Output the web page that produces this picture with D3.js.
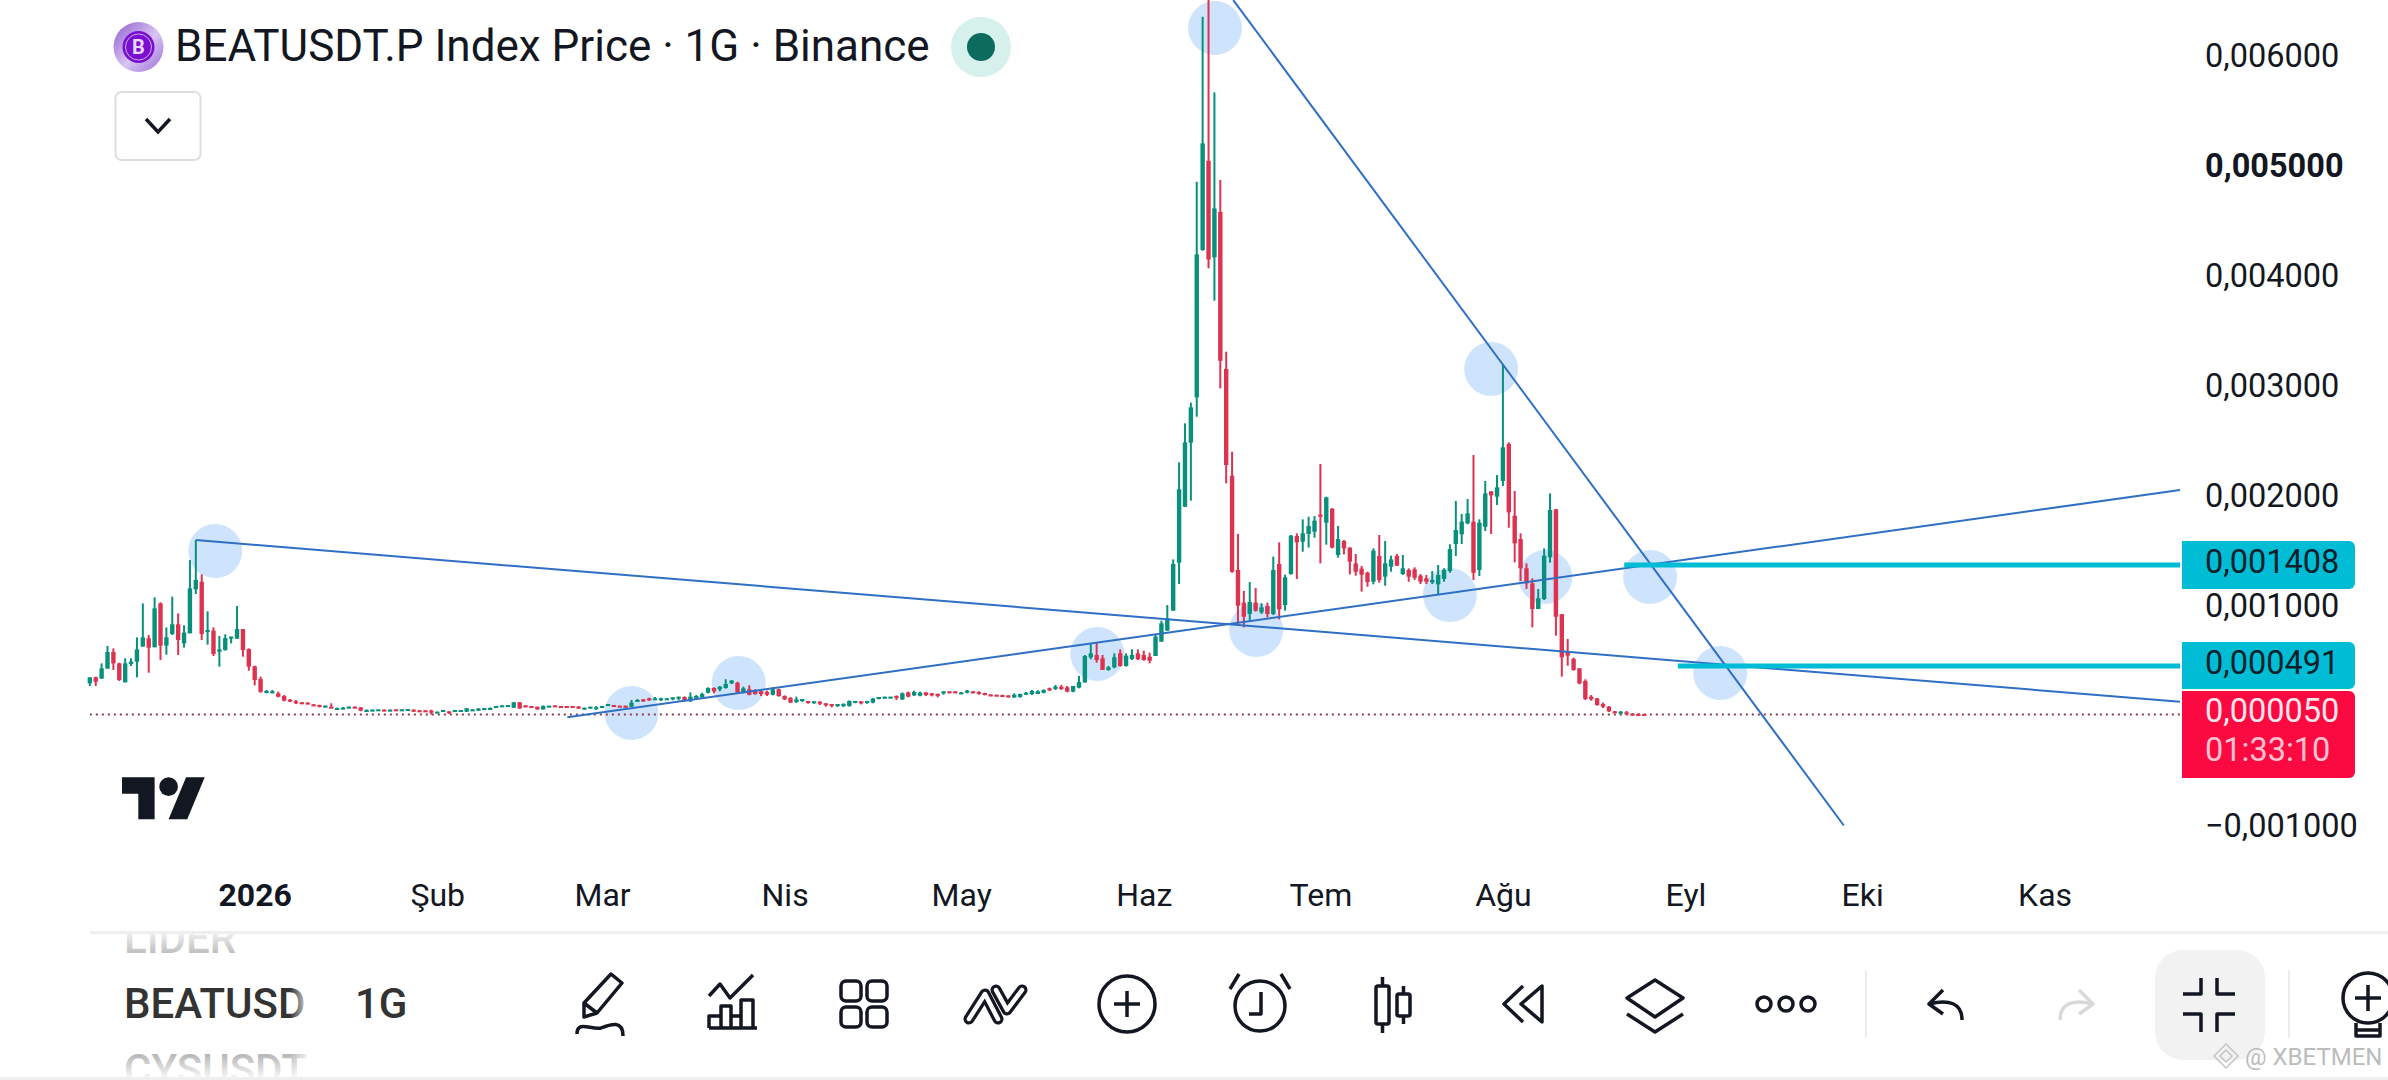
<!DOCTYPE html>
<html>
<head>
<meta charset="utf-8">
<script src="https://cdn.jsdelivr.net/npm/d3@7"></script>
<style>
  html, body { margin: 0; padding: 0; background: #fff; overflow: hidden; }
  text { font-family: Roboto, sans-serif; }
</style>
</head>
<body>
<svg id="chart" width="2388" height="1080"></svg>
<script>
// prices are in millionths of USDT, one candle per day from 4 Dec 2025
var opens = [333,388,376,467,618,515,342,509,530,667,
742,661,1060,676,782,870,697,788,1188,1257,
803,812,621,636,745,739,827,645,488,373,
252,248,242,218,185,170,161,158,142,136,
121,121,103,103,112,121,115,85,88,88,
94,88,97,91,91,94,88,88,85,67,
82,79,82,82,76,85,85,97,100,115,
121,124,112,161,133,127,121,97,121,133,
127,127,127,121,97,106,97,112,130,136,
130,130,121,167,188,197,188,185,191,194,
200,209,170,194,206,248,291,279,291,333,
339,248,279,273,261,255,230,279,218,200,
164,179,173,161,167,152,145,127,127,127,
161,170,158,158,194,200,206,218,188,251,
224,221,251,242,236,242,261,261,242,248,
261,255,245,233,230,227,224,206,209,236,
236,236,248,288,282,303,297,258,294,342,
570,591,561,455,479,606,491,555,606,591,
576,582,712,812,994,1430,1939,2521,2933,4272,
5084,4206,4618,3191,2221,1364,1067,964,1067,979,
1036,964,1418,1045,1327,1673,1621,1691,1712,1867,
1794,1921,1500,1627,1567,1424,1376,1339,1257,1491,
1303,1394,1491,1327,1364,1370,1312,1288,1251,1233,
1282,1354,1600,1688,1788,1803,1364,1757,2079,2030,
2173,2509,1857,1645,1379,1242,1009,1100,1479,1915,
961,621,555,470,355,212,197,145,121,79,
61,70,58,55,55];
var highs = [388,394,515,673,651,521,561,561,751,1060,
773,1115,1070,842,1121,970,861,1454,1636,1324,
988,842,764,779,758,1036,827,651,494,394,
273,273,258,227,191,182,161,161,145,139,
133,152,112,118,124,124,118,97,97,97,
97,97,97,97,100,97,91,88,94,76,
91,79,91,91,109,97,109,109,115,127,
133,136,164,164,133,127,121,133,130,133,
127,127,127,127,112,121,127,127,145,136,
130,130,182,191,188,203,209,203,197,206,
212,215,251,227,248,297,297,309,370,364,
348,303,315,279,267,267,297,285,224,209,
212,191,173,170,170,152,145,145,152,179,
173,170,173,200,209,212,212,224,251,258,
267,258,251,245,242,261,261,261,255,273,
261,261,248,233,230,230,224,242,239,255,
273,270,279,294,318,318,309,309,400,591,
697,703,591,491,606,642,606,642,642,630,
612,773,903,1045,1460,2342,2697,2885,4893,6393,
6700,5705,4909,3348,2439,1691,1173,1254,1200,1061,
1067,1485,1615,1321,1682,1697,1824,1848,1854,2327,
2030,1927,1764,1636,1570,1509,1400,1348,1560,1682,
1627,1494,1509,1500,1379,1388,1327,1318,1354,1409,
1379,1597,1991,1873,2009,2409,1824,2173,2079,2227,
3227,2524,2082,1697,1424,1288,1191,1560,2060,1918,
964,736,567,470,370,227,200,158,127,82,
82,82,61,61,55];
var lows = [309,309,376,467,455,355,342,491,388,667,
430,661,545,594,773,591,658,788,1145,727,
685,582,485,630,697,739,576,448,315,248,
242,242,206,170,164,145,145,145,127,115,
118,109,97,100,112,112,79,73,82,85,
85,85,85,85,88,73,76,76,48,64,
76,55,79,79,73,82,82,94,97,112,
118,121,109,100,115,109,94,94,118,118,
109,109,109,103,94,103,94,109,127,121,
118,112,118,164,164,173,182,173,185,179,
179,170,164,188,200,242,242,261,285,327,
242,242,224,230,218,218,224,212,182,155,
155,164,148,148,136,121,115,118,118,121,
152,142,148,152,188,194,200,182,182,206,
218,215,218,215,206,230,242,242,236,242,
242,230,224,215,215,209,203,200,203,227,
227,236,242,264,273,273,252,252,288,339,
552,521,455,448,470,485,485,545,545,539,
515,582,712,812,994,1236,1939,1994,2757,4266,
4106,3812,3015,2151,1339,864,842,903,985,964,
933,955,915,994,1321,1282,1530,1567,1657,1424,
1594,1560,1476,1506,1324,1312,1167,1212,1233,1248,
1221,1348,1400,1318,1257,1273,1236,1236,1236,1142,
1257,1339,1491,1600,1779,1273,1309,1718,1691,1954,
2127,1748,1433,1263,1191,842,1009,1091,1430,767,
394,494,448,324,182,176,130,109,73,67,
48,48,42,45,42];
var closes = [388,348,470,618,515,364,515,530,642,751,
657,1015,676,751,870,727,794,1197,1273,782,
818,600,642,745,758,827,636,485,364,255,
264,261,212,176,170,161,152,148,130,127,
130,112,109,112,121,115,85,91,94,97,
88,94,88,97,100,85,79,79,67,76,
91,70,91,91,106,97,103,109,109,127,
133,136,161,106,121,112,97,127,130,121,
112,112,112,106,112,121,115,127,145,124,
121,118,158,182,173,179,197,197,197,206,
212,176,212,218,236,291,261,303,327,358,
252,288,230,236,236,230,279,218,188,158,
188,191,161,170,148,136,127,145,145,173,
173,158,173,194,209,212,212,203,242,212,
255,248,227,224,224,261,248,248,251,267,
248,242,230,221,221,215,209,230,236,248,
264,261,273,270,303,282,258,309,345,582,
606,545,455,479,570,491,585,591,552,545,
539,758,879,924,1418,2097,2524,2842,4233,5242,
4187,4651,3266,2318,1348,1039,939,1073,994,1024,
964,1364,1006,1297,1676,1615,1697,1764,1812,1848,
2024,1567,1645,1560,1439,1348,1321,1254,1539,1273,
1424,1460,1403,1379,1303,1294,1257,1257,1273,1318,
1364,1554,1727,1803,1879,1339,1794,2060,2042,2115,
2479,1888,1606,1379,1242,1009,1106,1494,1909,939,
570,585,455,333,191,188,136,121,79,70,
76,61,48,48,50];

var priceTicks = [6000,5000,4000,3000,2000,1000,-1000];
var monthDates = ["2026-01-01","2026-02-01","2026-03-01","2026-04-01","2026-05-01","2026-06-01","2026-07-01","2026-08-01","2026-09-01","2026-10-01","2026-11-01"];
var monthLabels = ["2026","Şub","Mar","Nis","May","Haz","Tem","Ağu","Eyl","Eki","Kas"];

// annotations: days counted from 1 Jan 2026
var markerDays = [-6.7,64,82.2,143.1,163.1,170.1,203,210,219.2,237,248.9];
var markerPrices = [1536,64,336,600,6291,818,1136,3191,1300,1300,427];
var trendDays = [[-10,327],[53.1,327],[166.2,269.9]];
var trendPrices = [[1636,166],[25,2091],[6545,-959]];
var levelPrices = [1408,491];
var levelDays = [232.6,241.7];
var lastPrice = 50;
var countdown = "01:33:10";
var endDay = 327;

var svg = d3.select("#chart");
var parseDay = d3.timeParse("%Y-%m-%d");
var jan1 = parseDay("2026-01-01");
function dayDate(d) { return d3.timeMinute.offset(jan1, Math.round(d * 1440)); }

var x = d3.scaleTime()
    .domain([jan1, parseDay("2026-11-01")])
    .range([254.7, 2044.6]);
var y = d3.scaleLinear()
    .domain([0, 6000])
    .range([720, 60]);

var defs = svg.append("defs");
var fade = defs.append("linearGradient").attr("id", "fade");
fade.append("stop").attr("offset", "0%").attr("stop-color", "#fff").attr("stop-opacity", 0);
fade.append("stop").attr("offset", "100%").attr("stop-color", "#fff").attr("stop-opacity", 1);
var fadeUp = defs.append("linearGradient").attr("id", "fadeV").attr("x2", 0).attr("y2", 1);
fadeUp.append("stop").attr("offset", "0%").attr("stop-color", "#fff").attr("stop-opacity", 0.75);
fadeUp.append("stop").attr("offset", "100%").attr("stop-color", "#fff").attr("stop-opacity", 0);
var fadeDown = defs.append("linearGradient").attr("id", "fadeW").attr("x2", 0).attr("y2", 1);
fadeDown.append("stop").attr("offset", "0%").attr("stop-color", "#fff").attr("stop-opacity", 0);
fadeDown.append("stop").attr("offset", "100%").attr("stop-color", "#fff").attr("stop-opacity", 0.85);
var coin = defs.append("linearGradient").attr("id", "coin").attr("x2", 1).attr("y2", 1);
coin.append("stop").attr("offset", "0%").attr("stop-color", "#8f5fd0");
coin.append("stop").attr("offset", "55%").attr("stop-color", "#d9c4f2");
coin.append("stop").attr("offset", "100%").attr("stop-color", "#9a6ed8");
defs.append("clipPath").attr("id", "listClip").append("rect")
    .attr("x", 120).attr("y", 934).attr("width", 192).attr("height", 143);

// markers go under the candles
svg.append("g").selectAll("circle")
    .data(markerDays)
    .enter().append("circle")
    .attr("cx", function(d) { return x(dayDate(d)); })
    .attr("cy", function(d, i) { return y(markerPrices[i]); })
    .attr("r", 27)
    .attr("fill", "#cee4fc");

// last price dotted line
svg.append("line")
    .attr("x1", x(dayDate(-28))).attr("x2", x(dayDate(endDay)))
    .attr("y1", y(lastPrice)).attr("y2", y(lastPrice))
    .attr("stroke", "#8f3a4a")
    .attr("stroke-width", 2)
    .attr("stroke-dasharray", "2 4");

// candles
var green = "#08907c", red = "#dc3350";
var candles = svg.append("g").selectAll("g")
    .data(opens)
    .enter().append("g")
    .attr("fill", function(d, i) { return closes[i] >= d ? green : red; });
candles.append("rect")
    .attr("x", function(d, i) { return x(dayDate(i - 28)) - 1; })
    .attr("width", 2)
    .attr("y", function(d, i) { return y(highs[i]); })
    .attr("height", function(d, i) { return y(lows[i]) - y(highs[i]); });
candles.append("rect")
    .attr("x", function(d, i) { return x(dayDate(i - 28)) - 2.2; })
    .attr("width", 4.4)
    .attr("y", function(d, i) { return y(Math.max(d, closes[i])); })
    .attr("height", function(d, i) { return Math.max(2, Math.abs(y(d) - y(closes[i]))); });

// trend lines
svg.append("g").selectAll("line")
    .data(trendDays)
    .enter().append("line")
    .attr("x1", function(d) { return x(dayDate(d[0])); })
    .attr("x2", function(d) { return x(dayDate(d[1])); })
    .attr("y1", function(d, i) { return y(trendPrices[i][0]); })
    .attr("y2", function(d, i) { return y(trendPrices[i][1]); })
    .attr("stroke", "#2f6fc4")
    .attr("stroke-width", 2);

// horizontal levels
svg.append("g").selectAll("line")
    .data(levelPrices)
    .enter().append("line")
    .attr("x1", function(d, i) { return x(dayDate(levelDays[i])); })
    .attr("x2", x(dayDate(endDay)))
    .attr("y1", function(d) { return y(d); })
    .attr("y2", function(d) { return y(d); })
    .attr("stroke", "#00bcd4")
    .attr("stroke-width", 5);

// price axis
function priceFormat(v) {
  var s = Math.abs(v / 1e6).toFixed(6).replace(".", ",");
  return v < 0 ? "\u2212" + s : s;
}
var yAxis = svg.append("g")
    .attr("transform", "translate(2205,-4)")
    .call(d3.axisRight(y).tickValues(priceTicks).tickSize(0).tickPadding(0).tickFormat(priceFormat));
yAxis.select(".domain").remove();
yAxis.selectAll("text")
    .attr("fill", "#131722")
    .attr("font-size", 32.5)
    .attr("font-family", "Roboto")
    .attr("font-weight", function(d) { return d === 5000 ? 700 : 400; });

// price tags
function tag(yTop, h, color) {
  svg.append("path")
    .attr("d", "M2182," + yTop + "H2349a6,6 0 0 1 6,6V" + (yTop + h - 6) + "a6,6 0 0 1 -6,6H2182Z")
    .attr("fill", color);
}
function tagText(label, cy, color) {
  svg.append("text")
    .attr("x", 2205).attr("y", cy).attr("dy", "0.35em")
    .attr("font-size", 32.5).attr("fill", color)
    .text(label);
}
tag(541, 48, "#00bcd4");
tagText(priceFormat(levelPrices[0]), 562, "#0b1f2a");
tag(642, 47, "#00bcd4");
tagText(priceFormat(levelPrices[1]), 663, "#0b1f2a");
tag(691, 87, "#fb0a42");
tagText(priceFormat(lastPrice), 711, "#ffe6ec");
tagText(countdown, 750, "#ffc2d0");

// time axis
var xAxis = svg.append("g")
    .attr("transform", "translate(0,895)")
    .call(d3.axisBottom(x).tickValues(monthDates.map(parseDay)).tickSize(0).tickPadding(0)
      .tickFormat(function(d, i) { return monthLabels[i]; }));
xAxis.select(".domain").remove();
xAxis.selectAll("text")
    .attr("y", 0).attr("dy", "0.35em")
    .attr("fill", "#131722")
    .attr("font-size", 32)
    .attr("font-family", "Roboto")
    .attr("font-weight", function(d, i) { return i === 0 ? 700 : 400; });

// header
svg.append("circle").attr("cx", 138.5).attr("cy", 47).attr("r", 25).attr("fill", "url(#coin)");
svg.append("circle").attr("cx", 138.5).attr("cy", 47).attr("r", 16).attr("fill", "#7a0fd0");
svg.append("circle").attr("cx", 138.5).attr("cy", 47).attr("r", 13).attr("fill", "none").attr("stroke", "#c9a8ee").attr("stroke-width", 1);
svg.append("text").attr("x", 138.5).attr("y", 47).attr("dy", "0.36em")
    .attr("text-anchor", "middle").attr("font-size", 20).attr("font-weight", 700)
    .attr("fill", "#e9d8ff").text("B");
svg.append("text")
    .attr("x", 175).attr("y", 45).attr("dy", "0.36em")
    .attr("font-size", 44).attr("fill", "#131722")
    .text("BEATUSDT.P Index Price · 1G · Binance");
svg.append("circle").attr("cx", 981).attr("cy", 47).attr("r", 30).attr("fill", "#d6f0ec");
svg.append("circle").attr("cx", 981).attr("cy", 47).attr("r", 14).attr("fill", "#0b6b5c");
svg.append("rect").attr("x", 115.5).attr("y", 92).attr("width", 85).attr("height", 68).attr("rx", 6)
    .attr("fill", "#fff").attr("stroke", "#dedede").attr("stroke-width", 2);
svg.append("path").attr("d", "M146,119L158,132L170,119").attr("fill", "none")
    .attr("stroke", "#131722").attr("stroke-width", 3.5);

// tradingview mark
var tv = svg.append("g").attr("transform", "translate(122,768) scale(2.33)").attr("fill", "#131722");
tv.append("path").attr("d", "M14 22H7V11H0V4h14v18zM28 22h-8l7.5-18h8L28 22z");
tv.append("circle").attr("cx", 20).attr("cy", 8).attr("r", 4);

// bottom toolbar
svg.append("rect").attr("x", 90).attr("y", 931).attr("width", 2298).attr("height", 3).attr("fill", "#efefef");
svg.append("rect").attr("x", 0).attr("y", 1077).attr("width", 2388).attr("height", 3).attr("fill", "#efefef");

var list = svg.append("g").attr("clip-path", "url(#listClip)");
list.append("text").attr("x", 124).attr("y", 953).attr("font-size", 42).attr("font-weight", 500).attr("fill", "#b8b8b8").text("LIDER");
list.append("text").attr("x", 124).attr("y", 1018).attr("font-size", 42).attr("font-weight", 500).attr("fill", "#333").text("BEATUSD");
list.append("text").attr("x", 124).attr("y", 1084).attr("font-size", 42).attr("font-weight", 500).attr("fill", "#b8b8b8").text("CYSUSDT");
list.append("rect").attr("x", 290).attr("y", 934).attr("width", 22).attr("height", 143).attr("fill", "url(#fade)");
list.append("rect").attr("x", 120).attr("y", 934).attr("width", 192).attr("height", 22).attr("fill", "url(#fadeV)");
list.append("rect").attr("x", 120).attr("y", 1055).attr("width", 192).attr("height", 22).attr("fill", "url(#fadeW)");
svg.append("text").attr("x", 355).attr("y", 1018).attr("font-size", 42).attr("font-weight", 500).attr("fill", "#333").text("1G");

function icon(cx, cy, color) {
  return svg.append("g")
    .attr("transform", "translate(" + cx + "," + cy + ")")
    .attr("fill", "none")
    .attr("stroke", color || "#131722")
    .attr("stroke-width", 3.5)
    .attr("stroke-linejoin", "round");
}
var ic;
// pencil
ic = icon(601, 1004);
ic.append("path").attr("d", "M-17,13L-17,-1L10,-30L21,-21L-4,9ZM-17,-1L-4,9");
ic.append("path").attr("d", "M-24,30C-24,16 -10,26 0,24C10,20 22,16 22,32");
// indicators
ic = icon(733, 1004);
ic.append("path").attr("d", "M-24,-8L-13,-20L-3,-6L20,-29");
ic.append("path").attr("d", "M-24,24V12H-12V24M-12,24V2H-2V24M-2,24V12H8V24M8,24V-4H20V24M-24,24H24");
// layouts
ic = icon(864, 1004);
[[-23,-23],[3,-23],[-23,3],[3,3]].forEach(function(p) {
  ic.append("rect").attr("x", p[0]).attr("y", p[1]).attr("width", 20).attr("height", 20).attr("rx", 5);
});
// templates: hollow chevrons, black line with a white core
ic = icon(996, 1004);
["M-27,15L-11,-10L2,15", "M0,-14L11,6L26,-14"].forEach(function(p) {
  ic.append("path").attr("d", p).attr("stroke-width", 11).attr("stroke-linecap", "round");
  ic.append("path").attr("d", p).attr("stroke-width", 4.5).attr("stroke", "#fff").attr("stroke-linecap", "round");
});
// add
ic = icon(1127, 1004);
ic.append("circle").attr("r", 28);
ic.append("path").attr("d", "M0,-13V13M-13,0H13");
// alarm
ic = icon(1260, 1006);
ic.append("circle").attr("r", 25);
ic.append("path").attr("d", "M1,-14V8H-11");
ic.append("path").attr("d", "M-30,-17L-21,-32M30,-17L21,-32");
// candles
ic = icon(1392, 1004);
ic.append("rect").attr("x", -16).attr("y", -18).attr("width", 13).attr("height", 38).attr("rx", 2);
ic.append("path").attr("d", "M-9.5,-27V-18M-9.5,20V29");
ic.append("rect").attr("x", 5).attr("y", -10).attr("width", 13).attr("height", 22).attr("rx", 2);
ic.append("path").attr("d", "M11.5,-18V-10M11.5,12V20");
// replay
ic = icon(1523, 1004);
ic.append("path").attr("d", "M0,-18L-19,0L0,18");
ic.append("path").attr("d", "M19,-18L19,18L-2,0Z");
// layers
ic = icon(1655, 1004);
ic.append("path").attr("d", "M0,-24L28,-6L0,13L-28,-6Z");
ic.append("path").attr("d", "M-28,10L0,28L28,10");
// more
ic = icon(1786, 1004);
[-22,0,22].forEach(function(p) { ic.append("circle").attr("cx", p).attr("r", 7); });
// undo, redo
ic = icon(1945, 1005);
ic.append("path").attr("d", "M-2,-15L-16,-1L-2,9M-16,-1C4,-6 17,-2 17,15");
ic = icon(2077, 1005, "#d9d9d9");
ic.append("path").attr("d", "M2,-15L16,-1L2,9M16,-1C-4,-6 -17,-2 -17,15");
// separators
svg.append("rect").attr("x", 1865).attr("y", 970).attr("width", 2).attr("height", 68).attr("fill", "#ececec");
svg.append("rect").attr("x", 2288).attr("y", 970).attr("width", 2).attr("height", 68).attr("fill", "#ececec");
// collapse button
svg.append("rect").attr("x", 2155).attr("y", 950).attr("width", 110).attr("height", 110).attr("rx", 28).attr("fill", "#f2f2f2");
ic = icon(2209, 1004);
ic.append("path").attr("d", "M-8,-26V-10H-26M8,-26V-10H26M-26,10H-8V28M26,10H8V28");
// bulb
ic = icon(2368, 998);
ic.append("circle").attr("r", 25);
ic.append("path").attr("d", "M0,-13V13M-13,0H13M-12,25V38H12V25M-12,32H12");

// watermark
var wm = svg.append("g").attr("fill", "none").attr("stroke", "#c4c4c4").attr("stroke-width", 1.5);
wm.append("path").attr("d", "M2226,1044L2238,1056L2226,1068L2214,1056Z");
wm.append("path").attr("d", "M2226,1050L2232,1056L2226,1062L2220,1056Z");
svg.append("text").attr("x", 2245).attr("y", 1056).attr("dy", "0.36em")
    .attr("font-size", 24).attr("fill", "#bcbcbc").text("@ XBETMEN");
</script>
</body>
</html>
